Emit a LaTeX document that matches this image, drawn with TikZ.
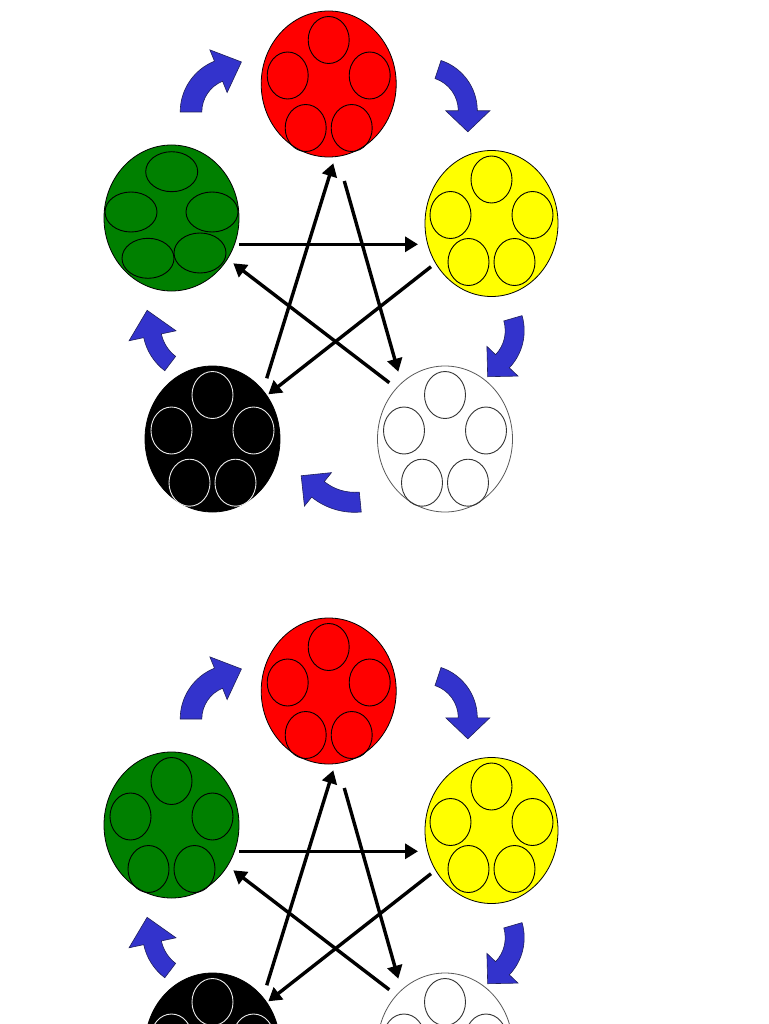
\documentclass[tikz,border=0pt]{standalone}
\usetikzlibrary{shapes.geometric,arrows.meta,calc}
\definecolor{cred}{RGB}{255,0,0}
\definecolor{cyel}{RGB}{255,255,0}
\definecolor{cgrn}{RGB}{0,128,0}
\definecolor{cblu}{RGB}{51,51,204}
\definecolor{cedge}{RGB}{30,30,90}
\tikzset{
  big/.style={ellipse, draw=black, line width=0.8pt, minimum width=135pt, minimum height=146pt, inner sep=0pt, outer sep=0pt},
  pent/.style={line width=3.4pt, -{Triangle[length=13pt,width=15pt]}},
  blk/.style={fill=cblu, draw=cedge, line width=0.6pt, line join=miter},
  dotline/.style={line width=0.9pt},
}
\newcommand\fivedots[3]{%
  \foreach \dx/\dy in {0/-44,-41/-8.5,41/-8.5,-23/#3,23/#3}
    \draw[dotline, #2] ([shift={(\dx,\dy)}]#1.center) ellipse [x radius=20.5, y radius=23.5];}
\newcommand\carr[9]{%
  \filldraw[blk] ($(#1,#2+#9)+(#4:#3+#6)$) arc[start angle=#4, end angle=#5, radius=#3+#6]
   -- ($(#1,#2+#9)+(#5:#3+#7)$) -- ($(#1,#2+#9)+(#5:#3)+(#5+90:#8)$)
   -- ($(#1,#2+#9)+(#5:#3-#7)$) -- ($(#1,#2+#9)+(#5:#3-#6)$)
   arc[start angle=#5, end angle=#4, radius=#3-#6] -- cycle;}
\newcommand\drawcopy[3]{%
  \node[big, fill=cred] (r#1) at (328.7,84+#2) {};
  \node[big, fill=cyel, minimum width=133pt] (y#1) at (491.5,223.5+#2) {};
  \node[big, fill=white, draw=gray!70!black] (w#1) at (445,439+#2) {};
  \node[big, fill=black] (k#1) at (212.5,439+#2) {};
  \node[big, fill=cgrn] (g#1) at (171.5,218+#2) {};
  \fivedots{r#1}{black}{44}
  \fivedots{y#1}{black}{38.5}
  \fivedots{w#1}{black!80}{43.7}
  \fivedots{k#1}{white!85!gray}{43.7}
  \ifnum#3=1
    \foreach \dx/\dy in {0.2/-46.3,-40.5/-6,40.5/-6,-23.5/40.3,28.5/35}
      \draw[dotline] ([shift={(\dx,\dy)}]g#1.center) ellipse [x radius=26, y radius=20];
  \else
    \fivedots{g#1}{black}{44}
  \fi
  \draw[pent] ([shift={(67.5,26.3)}]g#1.center) -- ([shift={(-73.5,20.8)}]y#1.center);
  \draw[pent] ([shift={(-55.7,-56.3)}]w#1.center) -- ([shift={(61.8,45.3)}]g#1.center);
  \draw[pent] ([shift={(54.2,-60.7)}]k#1.center) -- ([shift={(4.6,79.3)}]r#1.center);
  \draw[pent] ([shift={(15.6,97)}]r#1.center) -- ([shift={(-46.7,-67.3)}]w#1.center);
  \draw[pent] ([shift={(-60.5,43.2)}]y#1.center) -- ([shift={(55.8,-44.7)}]k#1.center);
  \carr{235}{112}{44}{180}{248}{10.8}{23}{24.7}{#2}
  \carr{424.3}{110.8}{43.5}{288.4}{360}{9.5}{22}{21}{#2}
  \carr{470.5}{330.7}{44.2}{-16.3}{43.7}{9.5}{21.5}{21.4}{#2}
  \carr{354.6}{444.1}{58.2}{84.4}{129}{10}{21.5}{21.6}{#2}
  \carr{198.5}{326}{47}{127}{168}{9}{24}{26}{#2}
}
\begin{document}
\begin{tikzpicture}[x=1pt,y=-1pt]
  \useasboundingbox (0,0) rectangle (768,1024);
  \clip (0,0) rectangle (768,1024);
  \fill[white] (0,0) rectangle (768,1024);
  \drawcopy{a}{0}{1}
  \drawcopy{b}{607}{0}
\end{tikzpicture}
\end{document}
